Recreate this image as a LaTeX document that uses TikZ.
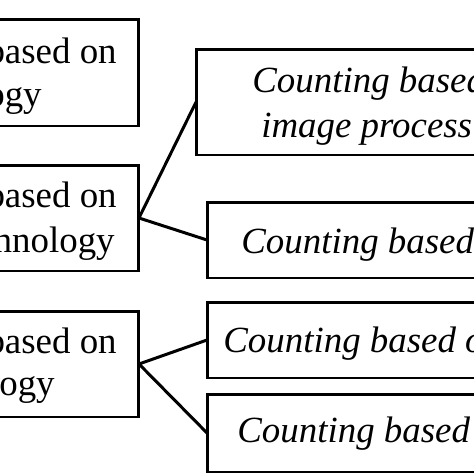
\documentclass[tikz,border=0pt]{standalone}
\usepackage{fontspec}
\setmainfont{Liberation Serif}
\begin{document}
\begin{tikzpicture}[x=0.02cm, y=-0.02cm,
  box/.style={rectangle, draw, line width=1.7pt, inner sep=0pt, outer sep=0pt},
  lefttext/.style={anchor=base east, inner sep=0pt, font=\fontsize{21}{25}\selectfont},
  righttext/.style={anchor=base west, inner sep=0pt, font=\fontsize{21}{25}\selectfont\itshape},
  link/.style={line width=1.7pt}]
\useasboundingbox (0,0) rectangle (474,474);
\clip (0,0) rectangle (474,474);
\begin{scope}
% left column, cut at the left edge
\node[box, minimum width=5.98cm, minimum height=2.14cm] (tech 1) at (-10.5, 72.5) {};
\node[box, minimum width=5.98cm, minimum height=2.12cm] (tech 2) at (-10.5, 218) {};
\node[box, minimum width=5.98cm, minimum height=2.12cm] (tech 3) at (-10.5, 364) {};
\node[lefttext] (tech 1 a) at (117, 63) {based on};
\node[lefttext] (tech 1 b) at (42, 106) {ogy};
\node[lefttext] (tech 2 a) at (117, 207) {based on};
\node[lefttext] (tech 2 b) at (115, 252) {hnology};
\node[lefttext] (tech 3 a) at (117, 353) {based on};
\node[lefttext] (tech 3 b) at (55, 395) {ogy};

% right column, cut at the right edge
\node[box, minimum width=8.88cm, minimum height=2.12cm] (count 1) at (418, 102) {};
\node[box, minimum width=8.66cm, minimum height=1.52cm] (count 2) at (423.5, 240) {};
\node[box, minimum width=8.66cm, minimum height=1.52cm] (count 3) at (423.5, 340) {};
\node[box, minimum width=8.66cm, minimum height=1.56cm] (count 4) at (423.5, 433) {};
\node[righttext] (count 1 a) at (252, 92) {Counting based};
\node[righttext] (count 1 b) at (261, 137) {image process};
\node[righttext] (count 2 a) at (241, 253) {Counting based};
\node[righttext] (count 3 a) at (223, 352) {Counting based on};
\node[righttext] (count 4 a) at (237, 442) {Counting based};

\foreach \y in {1, 2}
  \draw[link] (tech 2.east) -- (count \y.west);
\foreach \y in {3, 4}
  \draw[link] (tech 3.east) -- (count \y.west);
\end{scope}
\end{tikzpicture}
\end{document}
